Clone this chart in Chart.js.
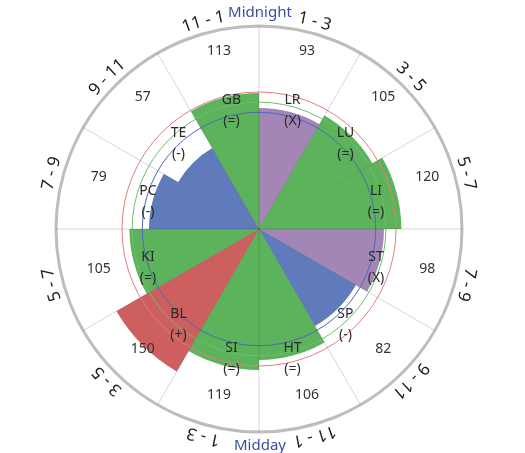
<!DOCTYPE html>
<html>
<head>
<meta charset="utf-8">
<script src="https://cdn.jsdelivr.net/npm/chart.js@4.4.1/dist/chart.umd.min.js"></script>
<style>
  html, body { margin: 0; padding: 0; background: #fff; }
  #wrap { width: 525px; height: 453px; position: relative; }
</style>
</head>
<body>
<div id="wrap"><canvas id="organClock"></canvas></div>
<script>
// two-hour windows, clockwise from midnight
const timeSlots = ['1 - 3', '3 - 5', '5 - 7', '7 - 9', '9 - 11', '11 - 1',
                   '1 - 3', '3 - 5', '5 - 7', '7 - 9', '9 - 11', '11 - 1'];
const organs = ['LR', 'LU', 'LI', 'ST', 'SP', 'HT', 'SI', 'BL', 'KI', 'PC', 'TE', 'GB'];
const states = ['(X)', '(=)', '(=)', '(X)', '(-)', '(=)', '(=)', '(+)', '(=)', '(-)', '(-)', '(=)'];
const counts = [93, 105, 120, 98, 82, 106, 119, 150, 105, 79, 57, 113];
const levels = [95.4, 103.3, 112.2, 98.5, 88.3, 103.3, 111.1, 129.7, 102.1, 86.7, 73.7, 107.2];
const refLevels = [92, 100, 108];
const scaleMax = 160;

const stateColors = {
    '(=)': '#5cb35c',
    '(-)': '#5f7bbb',
    '(+)': '#cd5f5f',
    '(X)': '#a386b6'
};
const refColors = ['#5068b5', '#6cbf6c', '#e37c7c'];

function gridColor(ctx) {
    const i = refLevels.indexOf(ctx.tick.value);
    return i >= 0 ? refColors[i] : '#bdbdbd';
}

function gridWidth(ctx) {
    return ctx.tick.value === scaleMax ? 3 : 1;
}

// writes text letter by letter along the circle
function drawArcText(ctx, text, cx, cy, radius, angle) {
    const total = ctx.measureText(text).width;
    let a = angle - total / 2 / radius;
    for (const ch of text) {
        const w = ctx.measureText(ch).width;
        a += w / 2 / radius;
        ctx.save();
        ctx.translate(cx, cy);
        ctx.rotate(a);
        ctx.fillText(ch, 0, -radius);
        ctx.restore();
        a += w / 2 / radius;
    }
}

const clockText = {
    id: 'clockText',
    afterDraw(chart) {
        const scale = chart.scales.r;
        const ctx = chart.ctx;
        const cx = scale.xCenter;
        const cy = scale.yCenter;
        const R = scale.drawingArea;
        const half = Math.PI / organs.length;

        ctx.save();
        ctx.textAlign = 'center';
        ctx.textBaseline = 'middle';

        organs.forEach((organ, i) => {
            const a = scale.getIndexAngle(i) + half;
            const s = Math.sin(a), c = Math.cos(a);

            // counts in the outer band
            ctx.fillStyle = '#333';
            ctx.font = '14px "Noto Sans"';
            ctx.fillText(String(counts[i]), cx + 4 + 170 * s, cy - 6 - 178 * c);

            // organ code and state inside the wedges
            const lx = cx + 3 + 118 * s;
            const ly = cy + 5 - 128 * c;
            ctx.fillStyle = '#2b2b2b';
            ctx.fillText(organ, lx, ly - 10);
            ctx.fillText(states[i], lx, ly + 11);

            // time window round the rim
            ctx.fillStyle = '#1a1a1a';
            ctx.font = '17px "Noto Sans"';
            drawArcText(ctx, timeSlots[i], cx, cy, R + 12, a);
        });

        ctx.fillStyle = '#3a4ea3';
        ctx.font = '15px "Noto Sans"';
        ctx.fillText('Midnight', cx + 1, cy - R - 13);
        ctx.fillText('Midday', cx + 1, cy + R + 14);
        ctx.restore();
    }
};

new Chart(document.getElementById('organClock'), {
    type: 'polarArea',
    data: {
        labels: organs,
        datasets: [{
            data: levels,
            backgroundColor: states.map(s => stateColors[s]),
            borderWidth: 0
        }]
    },
    options: {
        responsive: true,
        maintainAspectRatio: false,
        animation: false,
        layout: {
            padding: { top: 26, bottom: 20, left: 56, right: 62 }
        },
        plugins: {
            legend: { display: false },
            tooltip: { enabled: false }
        },
        scales: {
            r: {
                min: 0,
                max: scaleMax,
                startAngle: 0,
                ticks: { display: false },
                afterBuildTicks: (scale) => {
                    scale.ticks = [0, ...refLevels, scaleMax].map(v => ({ value: v }));
                },
                grid: {
                    z: 1,
                    circular: true,
                    color: gridColor,
                    lineWidth: gridWidth
                },
                angleLines: {
                    display: true,
                    color: 'rgba(0, 0, 0, 0.16)',
                    lineWidth: 1
                },
                pointLabels: { display: false }
            }
        }
    },
    plugins: [clockText]
});
</script>
</body>
</html>
